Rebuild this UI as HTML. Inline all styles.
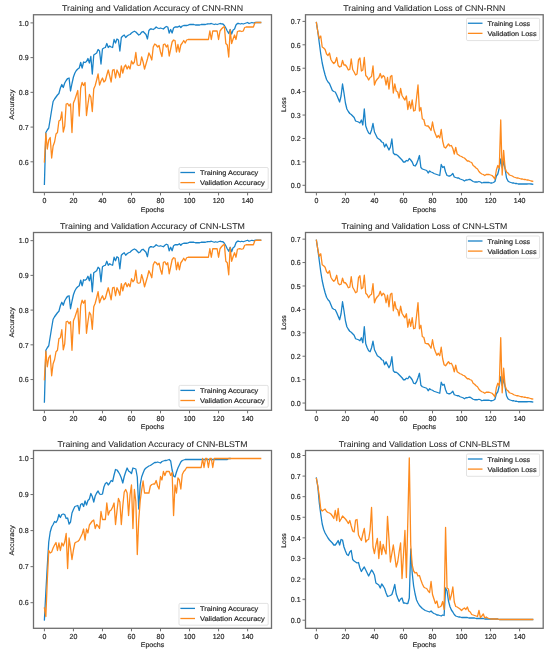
<!DOCTYPE html>
<html><head><meta charset="utf-8"><style>html,body{margin:0;padding:0;background:#fff;width:550px;height:653px;overflow:hidden}svg{display:block;will-change:transform}</style></head>
<body><svg width="550" height="653" viewBox="0 0 550 653" font-family='"Liberation Sans", sans-serif' text-rendering="geometricPrecision"><rect width="550" height="653" fill="#fff"/><g><clipPath id="c00"><rect x="33.5" y="14.75" width="238.0" height="177.65"/></clipPath><g clip-path="url(#c00)" fill="none" stroke-width="1.3" stroke-linejoin="round" stroke-linecap="square"><polyline points="44.40,184.40 45.85,132.50 47.30,130.00 48.75,128.00 50.21,119.00 51.66,110.00 53.11,101.50 54.56,99.00 56.01,97.00 57.46,95.00 58.91,93.50 60.37,88.00 61.82,84.50 63.27,87.50 64.72,83.00 66.17,80.50 67.62,78.50 69.07,78.00 70.53,91.00 71.98,83.50 73.43,77.00 74.88,73.00 76.33,70.50 77.78,69.00 79.23,68.00 80.69,62.50 82.14,68.00 83.59,62.00 85.04,62.50 86.49,61.50 87.94,58.50 89.39,63.00 90.84,56.50 92.30,74.00 93.75,55.00 95.20,54.00 96.65,53.00 98.10,49.50 99.55,51.00 101.00,64.00 102.46,49.00 103.91,48.00 105.36,47.50 106.81,43.50 108.26,47.50 109.71,46.00 111.16,47.00 112.62,47.50 114.07,39.50 115.52,43.00 116.97,39.00 118.42,40.00 119.87,51.00 121.32,37.50 122.78,36.00 124.23,35.00 125.68,37.50 127.13,36.00 128.58,35.00 130.03,34.50 131.48,33.00 132.94,32.00 134.39,31.20 135.84,32.00 137.29,33.50 138.74,35.00 140.19,34.20 141.64,32.20 143.10,31.50 144.55,33.00 146.00,34.50 147.45,39.00 148.90,30.50 150.35,29.00 151.80,29.00 153.25,29.50 154.71,28.50 156.16,27.00 157.61,28.00 159.06,28.50 160.51,28.00 161.96,28.50 163.41,29.00 164.87,27.50 166.32,26.50 167.77,27.00 169.22,33.00 170.67,29.50 172.12,33.00 173.57,28.00 175.03,27.00 176.48,27.00 177.93,27.00 179.38,26.00 180.83,27.50 182.28,26.00 183.73,25.50 185.19,25.50 186.64,25.50 188.09,25.20 189.54,24.50 190.99,24.50 192.44,24.50 193.89,24.50 195.35,25.00 196.80,25.00 198.25,25.00 199.70,25.00 201.15,24.50 202.60,24.50 204.05,24.50 205.51,24.50 206.96,24.00 208.41,23.80 209.86,23.80 211.31,23.50 212.76,24.00 214.21,24.50 215.67,24.00 217.12,24.50 218.57,24.00 220.02,23.50 221.47,23.80 222.92,24.00 224.37,25.50 225.83,28.00 227.28,31.00 228.73,33.50 230.18,29.50 231.63,34.00 233.08,30.00 234.53,29.00 235.98,25.00 237.44,23.50 238.89,23.50 240.34,24.00 241.79,23.50 243.24,24.00 244.69,23.50 246.14,23.00 247.60,22.50 249.05,23.50 250.50,23.00 251.95,22.50 253.40,23.00 254.85,22.50 256.30,22.50 257.76,22.50 259.21,22.50 260.66,22.50" stroke="#1a83c8"/><polyline points="44.40,162.00 45.85,133.50 47.30,149.00 48.75,140.00 50.21,137.50 51.66,158.00 53.11,146.00 54.56,142.00 56.01,134.00 57.46,132.50 58.91,121.00 60.37,120.00 61.82,112.00 63.27,132.00 64.72,126.00 66.17,104.00 67.62,103.50 69.07,106.00 70.53,104.00 71.98,132.50 73.43,103.00 74.88,99.50 76.33,95.00 77.78,90.50 79.23,116.00 80.69,88.00 82.14,82.50 83.59,85.50 85.04,82.50 86.49,115.50 87.94,104.00 89.39,94.50 90.84,97.00 92.30,111.50 93.75,89.00 95.20,85.50 96.65,80.00 98.10,74.00 99.55,85.00 101.00,81.00 102.46,78.00 103.91,82.00 105.36,80.50 106.81,75.00 108.26,70.00 109.71,76.00 111.16,82.00 112.62,70.00 114.07,69.50 115.52,78.00 116.97,70.00 118.42,73.00 119.87,77.50 121.32,66.00 122.78,73.00 124.23,67.00 125.68,65.00 127.13,69.00 128.58,66.00 130.03,69.00 131.48,61.00 132.94,64.00 134.39,62.00 135.84,52.50 137.29,65.00 138.74,65.50 140.19,65.00 141.64,57.00 143.10,62.00 144.55,69.00 146.00,64.00 147.45,59.00 148.90,53.00 150.35,56.00 151.80,60.00 153.25,47.00 154.71,44.00 156.16,45.00 157.61,47.00 159.06,45.50 160.51,52.00 161.96,56.50 163.41,44.50 164.87,44.00 166.32,47.00 167.77,45.00 169.22,56.00 170.67,49.00 172.12,42.00 173.57,40.00 175.03,40.50 176.48,52.00 177.93,44.50 179.38,52.00 180.83,45.00 182.28,43.00 183.73,40.50 185.19,43.00 186.64,40.00 188.09,39.50 189.54,39.50 190.99,39.50 192.44,39.50 193.89,39.50 195.35,39.50 196.80,39.50 198.25,39.50 199.70,39.50 201.15,39.50 202.60,39.50 204.05,39.50 205.51,39.50 206.96,39.50 208.41,39.50 209.86,31.00 211.31,39.50 212.76,31.00 214.21,31.00 215.67,31.00 217.12,31.00 218.57,39.50 220.02,31.00 221.47,29.00 222.92,27.50 224.37,26.50 225.83,43.50 227.28,45.00 228.73,57.00 230.18,30.00 231.63,43.50 233.08,39.00 234.53,35.00 235.98,39.50 237.44,31.50 238.89,31.00 240.34,31.00 241.79,31.50 243.24,31.00 244.69,27.50 246.14,27.00 247.60,27.00 249.05,27.00 250.50,27.00 251.95,27.00 253.40,27.00 254.85,23.00 256.30,22.50 257.76,22.50 259.21,22.50 260.66,22.50" stroke="#fd8a1e"/></g><g stroke="#6e6e6e" stroke-width="1.3" fill="none"><rect x="33.5" y="14.75" width="238.0" height="177.65"/><line x1="44.40" y1="192.4" x2="44.40" y2="195.4" stroke-width="1.0"/><line x1="73.43" y1="192.4" x2="73.43" y2="195.4" stroke-width="1.0"/><line x1="102.46" y1="192.4" x2="102.46" y2="195.4" stroke-width="1.0"/><line x1="131.48" y1="192.4" x2="131.48" y2="195.4" stroke-width="1.0"/><line x1="160.51" y1="192.4" x2="160.51" y2="195.4" stroke-width="1.0"/><line x1="189.54" y1="192.4" x2="189.54" y2="195.4" stroke-width="1.0"/><line x1="218.57" y1="192.4" x2="218.57" y2="195.4" stroke-width="1.0"/><line x1="247.60" y1="192.4" x2="247.60" y2="195.4" stroke-width="1.0"/><line x1="30.5" y1="161.80" x2="33.5" y2="161.80" stroke-width="1.0"/><line x1="30.5" y1="127.08" x2="33.5" y2="127.08" stroke-width="1.0"/><line x1="30.5" y1="92.35" x2="33.5" y2="92.35" stroke-width="1.0"/><line x1="30.5" y1="57.62" x2="33.5" y2="57.62" stroke-width="1.0"/><line x1="30.5" y1="22.90" x2="33.5" y2="22.90" stroke-width="1.0"/></g><g fill="#262626" stroke="#262626" stroke-width="0.16"><text x="44.40" y="202.70" text-anchor="middle" font-size="7.26" textLength="3.90" lengthAdjust="spacingAndGlyphs">0</text><text x="73.43" y="202.70" text-anchor="middle" font-size="7.26" textLength="7.81" lengthAdjust="spacingAndGlyphs">20</text><text x="102.46" y="202.70" text-anchor="middle" font-size="7.26" textLength="7.81" lengthAdjust="spacingAndGlyphs">40</text><text x="131.48" y="202.70" text-anchor="middle" font-size="7.26" textLength="7.81" lengthAdjust="spacingAndGlyphs">60</text><text x="160.51" y="202.70" text-anchor="middle" font-size="7.26" textLength="7.81" lengthAdjust="spacingAndGlyphs">80</text><text x="189.54" y="202.70" text-anchor="middle" font-size="7.26" textLength="11.71" lengthAdjust="spacingAndGlyphs">100</text><text x="218.57" y="202.70" text-anchor="middle" font-size="7.26" textLength="11.71" lengthAdjust="spacingAndGlyphs">120</text><text x="247.60" y="202.70" text-anchor="middle" font-size="7.26" textLength="11.71" lengthAdjust="spacingAndGlyphs">140</text><text x="28.60" y="164.55" text-anchor="end" font-size="7.26" textLength="9.76" lengthAdjust="spacingAndGlyphs">0.6</text><text x="28.60" y="129.83" text-anchor="end" font-size="7.26" textLength="9.76" lengthAdjust="spacingAndGlyphs">0.7</text><text x="28.60" y="95.10" text-anchor="end" font-size="7.26" textLength="9.76" lengthAdjust="spacingAndGlyphs">0.8</text><text x="28.60" y="60.37" text-anchor="end" font-size="7.26" textLength="9.76" lengthAdjust="spacingAndGlyphs">0.9</text><text x="28.60" y="25.65" text-anchor="end" font-size="7.26" textLength="9.76" lengthAdjust="spacingAndGlyphs">1.0</text><g stroke-width="0.06"><text x="152.50" y="11.25" text-anchor="middle" font-size="8.40" textLength="181.12" lengthAdjust="spacingAndGlyphs">Training and Validation Accuracy of CNN-RNN</text></g><text x="152.50" y="211.50" text-anchor="middle" font-size="6.73" textLength="23.65" lengthAdjust="spacingAndGlyphs">Epochs</text><text transform="translate(14.00,104.67) rotate(-90)" x="0" y="0" text-anchor="middle" font-size="6.73" textLength="30.15" lengthAdjust="spacingAndGlyphs">Accuracy</text></g><rect x="179" y="167.5" width="89.19999999999999" height="21.80000000000001" rx="1.3" fill="#fff" fill-opacity="0.8" stroke="#d6d6d6" stroke-width="0.7"/><line x1="180.4" y1="172.50" x2="195" y2="172.50" stroke="#1a83c8" stroke-width="1.3"/><g fill="#262626" stroke="#262626" stroke-width="0.16"><text x="200.00" y="175.00" text-anchor="start" font-size="6.73" textLength="58.29" lengthAdjust="spacingAndGlyphs">Training Accuracy</text></g><line x1="180.4" y1="182.60" x2="195" y2="182.60" stroke="#fd8a1e" stroke-width="1.3"/><g fill="#262626" stroke="#262626" stroke-width="0.16"><text x="200.00" y="185.10" text-anchor="start" font-size="6.73" textLength="64.83" lengthAdjust="spacingAndGlyphs">Validation Accuracy</text></g><clipPath id="c10"><rect x="305.5" y="14.75" width="237.70000000000005" height="177.65"/></clipPath><g clip-path="url(#c10)" fill="none" stroke-width="1.3" stroke-linejoin="round" stroke-linecap="square"><polyline points="316.40,22.50 317.85,32.00 319.30,43.00 320.75,54.00 322.21,63.00 323.66,69.50 325.11,75.00 326.56,79.50 328.01,82.00 329.46,83.50 330.91,87.00 332.37,90.50 333.82,91.50 335.27,92.00 336.72,95.00 338.17,98.50 339.62,102.00 341.07,96.00 342.53,84.00 343.98,93.00 345.43,103.00 346.88,109.00 348.33,111.50 349.78,113.50 351.23,114.50 352.69,116.00 354.14,117.50 355.59,121.00 357.04,121.50 358.49,122.00 359.94,123.00 361.39,120.00 362.84,125.00 364.30,109.00 365.75,126.00 367.20,130.00 368.65,133.00 370.10,134.00 371.55,130.00 373.00,123.50 374.46,132.00 375.91,135.00 377.36,138.00 378.81,139.00 380.26,140.00 381.71,142.00 383.16,142.50 384.62,147.00 386.07,144.00 387.52,147.00 388.97,150.00 390.42,147.00 391.87,139.00 393.32,153.00 394.78,154.50 396.23,154.50 397.68,155.50 399.13,157.00 400.58,158.50 402.03,160.00 403.48,162.00 404.94,162.00 406.39,160.50 407.84,161.00 409.29,158.50 410.74,160.00 412.19,162.00 413.64,165.50 415.10,166.00 416.55,164.00 418.00,160.00 419.45,155.50 420.90,167.50 422.35,169.00 423.80,169.50 425.25,170.00 426.71,170.50 428.16,173.00 429.61,171.00 431.06,172.00 432.51,172.50 433.96,173.50 435.41,174.00 436.87,174.50 438.32,175.00 439.77,175.50 441.22,164.50 442.67,167.50 444.12,166.50 445.57,172.00 447.03,175.50 448.48,176.00 449.93,176.00 451.38,175.00 452.83,173.50 454.28,177.00 455.73,177.50 457.19,178.00 458.64,178.00 460.09,179.00 461.54,179.50 462.99,180.00 464.44,181.00 465.89,180.00 467.35,180.00 468.80,179.50 470.25,179.50 471.70,180.50 473.15,181.50 474.60,182.00 476.05,182.00 477.51,182.00 478.96,181.50 480.41,182.00 481.86,183.00 483.31,182.50 484.76,182.50 486.21,182.50 487.67,182.50 489.12,182.50 490.57,183.00 492.02,183.00 493.47,182.50 494.92,181.50 496.37,176.00 497.82,174.00 499.28,168.00 500.73,159.00 502.18,168.00 503.63,161.00 505.08,169.00 506.53,178.00 507.98,181.00 509.44,182.00 510.89,182.50 512.34,183.00 513.79,183.00 515.24,183.50 516.69,183.50 518.14,184.00 519.60,184.00 521.05,184.00 522.50,184.00 523.95,184.00 525.40,184.00 526.85,184.00 528.30,183.80 529.76,183.80 531.21,184.00 532.66,184.30" stroke="#1a83c8"/><polyline points="316.40,22.50 317.85,32.00 319.30,38.50 320.75,36.00 322.21,47.00 323.66,48.00 325.11,49.50 326.56,54.00 328.01,55.50 329.46,53.00 330.91,59.50 332.37,62.00 333.82,63.50 335.27,62.00 336.72,57.50 338.17,65.50 339.62,67.00 341.07,66.50 342.53,60.50 343.98,65.00 345.43,65.00 346.88,67.00 348.33,70.00 349.78,69.50 351.23,59.00 352.69,69.50 354.14,72.00 355.59,75.00 357.04,74.00 358.49,60.00 359.94,58.00 361.39,71.00 362.84,70.00 364.30,57.50 365.75,75.50 367.20,77.00 368.65,80.00 370.10,77.50 371.55,76.50 373.00,66.00 374.46,85.00 375.91,81.00 377.36,79.00 378.81,77.50 380.26,73.50 381.71,78.00 383.16,75.50 384.62,77.00 386.07,85.00 387.52,77.50 388.97,89.00 390.42,76.50 391.87,75.50 393.32,93.00 394.78,84.00 396.23,91.00 397.68,92.00 399.13,98.00 400.58,88.50 402.03,95.50 403.48,98.00 404.94,100.00 406.39,96.00 407.84,109.50 409.29,101.50 410.74,108.50 412.19,100.00 413.64,111.00 415.10,110.50 416.55,98.00 418.00,85.00 419.45,111.00 420.90,107.50 422.35,119.00 423.80,119.50 425.25,125.50 426.71,126.00 428.16,126.00 429.61,128.00 431.06,130.50 432.51,122.00 433.96,130.00 435.41,134.00 436.87,137.50 438.32,135.50 439.77,138.00 441.22,129.50 442.67,141.00 444.12,147.00 445.57,148.00 447.03,146.00 448.48,144.00 449.93,146.00 451.38,145.50 452.83,148.50 454.28,154.00 455.73,147.50 457.19,154.00 458.64,155.00 460.09,156.00 461.54,156.50 462.99,157.50 464.44,158.00 465.89,159.50 467.35,161.00 468.80,161.00 470.25,162.00 471.70,162.50 473.15,165.50 474.60,166.50 476.05,168.00 477.51,169.00 478.96,171.50 480.41,173.00 481.86,174.00 483.31,174.50 484.76,175.50 486.21,174.50 487.67,174.50 489.12,174.50 490.57,175.00 492.02,175.50 493.47,177.00 494.92,179.00 496.37,170.00 497.82,165.50 499.28,168.00 500.73,120.00 502.18,175.00 503.63,150.50 505.08,168.00 506.53,172.00 507.98,173.00 509.44,175.00 510.89,175.50 512.34,176.00 513.79,177.00 515.24,177.50 516.69,178.00 518.14,178.00 519.60,178.50 521.05,179.00 522.50,179.00 523.95,179.50 525.40,179.50 526.85,180.00 528.30,180.00 529.76,180.50 531.21,181.00 532.66,181.20" stroke="#fd8a1e"/></g><g stroke="#6e6e6e" stroke-width="1.3" fill="none"><rect x="305.5" y="14.75" width="237.70000000000005" height="177.65"/><line x1="316.40" y1="192.4" x2="316.40" y2="195.4" stroke-width="1.0"/><line x1="345.43" y1="192.4" x2="345.43" y2="195.4" stroke-width="1.0"/><line x1="374.46" y1="192.4" x2="374.46" y2="195.4" stroke-width="1.0"/><line x1="403.48" y1="192.4" x2="403.48" y2="195.4" stroke-width="1.0"/><line x1="432.51" y1="192.4" x2="432.51" y2="195.4" stroke-width="1.0"/><line x1="461.54" y1="192.4" x2="461.54" y2="195.4" stroke-width="1.0"/><line x1="490.57" y1="192.4" x2="490.57" y2="195.4" stroke-width="1.0"/><line x1="519.60" y1="192.4" x2="519.60" y2="195.4" stroke-width="1.0"/><line x1="302.5" y1="185.30" x2="305.5" y2="185.30" stroke-width="1.0"/><line x1="302.5" y1="161.89" x2="305.5" y2="161.89" stroke-width="1.0"/><line x1="302.5" y1="138.47" x2="305.5" y2="138.47" stroke-width="1.0"/><line x1="302.5" y1="115.06" x2="305.5" y2="115.06" stroke-width="1.0"/><line x1="302.5" y1="91.64" x2="305.5" y2="91.64" stroke-width="1.0"/><line x1="302.5" y1="68.23" x2="305.5" y2="68.23" stroke-width="1.0"/><line x1="302.5" y1="44.81" x2="305.5" y2="44.81" stroke-width="1.0"/><line x1="302.5" y1="21.40" x2="305.5" y2="21.40" stroke-width="1.0"/></g><g fill="#262626" stroke="#262626" stroke-width="0.16"><text x="316.40" y="202.70" text-anchor="middle" font-size="7.26" textLength="3.90" lengthAdjust="spacingAndGlyphs">0</text><text x="345.43" y="202.70" text-anchor="middle" font-size="7.26" textLength="7.81" lengthAdjust="spacingAndGlyphs">20</text><text x="374.46" y="202.70" text-anchor="middle" font-size="7.26" textLength="7.81" lengthAdjust="spacingAndGlyphs">40</text><text x="403.48" y="202.70" text-anchor="middle" font-size="7.26" textLength="7.81" lengthAdjust="spacingAndGlyphs">60</text><text x="432.51" y="202.70" text-anchor="middle" font-size="7.26" textLength="7.81" lengthAdjust="spacingAndGlyphs">80</text><text x="461.54" y="202.70" text-anchor="middle" font-size="7.26" textLength="11.71" lengthAdjust="spacingAndGlyphs">100</text><text x="490.57" y="202.70" text-anchor="middle" font-size="7.26" textLength="11.71" lengthAdjust="spacingAndGlyphs">120</text><text x="519.60" y="202.70" text-anchor="middle" font-size="7.26" textLength="11.71" lengthAdjust="spacingAndGlyphs">140</text><text x="300.60" y="188.05" text-anchor="end" font-size="7.26" textLength="9.76" lengthAdjust="spacingAndGlyphs">0.0</text><text x="300.60" y="164.64" text-anchor="end" font-size="7.26" textLength="9.76" lengthAdjust="spacingAndGlyphs">0.1</text><text x="300.60" y="141.22" text-anchor="end" font-size="7.26" textLength="9.76" lengthAdjust="spacingAndGlyphs">0.2</text><text x="300.60" y="117.81" text-anchor="end" font-size="7.26" textLength="9.76" lengthAdjust="spacingAndGlyphs">0.3</text><text x="300.60" y="94.39" text-anchor="end" font-size="7.26" textLength="9.76" lengthAdjust="spacingAndGlyphs">0.4</text><text x="300.60" y="70.98" text-anchor="end" font-size="7.26" textLength="9.76" lengthAdjust="spacingAndGlyphs">0.5</text><text x="300.60" y="47.56" text-anchor="end" font-size="7.26" textLength="9.76" lengthAdjust="spacingAndGlyphs">0.6</text><text x="300.60" y="24.15" text-anchor="end" font-size="7.26" textLength="9.76" lengthAdjust="spacingAndGlyphs">0.7</text><g stroke-width="0.06"><text x="424.35" y="11.25" text-anchor="middle" font-size="8.40" textLength="162.11" lengthAdjust="spacingAndGlyphs">Training and Validation Loss of CNN-RNN</text></g><text x="424.35" y="211.50" text-anchor="middle" font-size="6.73" textLength="23.65" lengthAdjust="spacingAndGlyphs">Epochs</text><text transform="translate(286.00,104.67) rotate(-90)" x="0" y="0" text-anchor="middle" font-size="6.73" textLength="14.46" lengthAdjust="spacingAndGlyphs">Loss</text></g><rect x="466.5" y="18.25" width="73.10000000000002" height="22.299999999999997" rx="1.3" fill="#fff" fill-opacity="0.8" stroke="#d6d6d6" stroke-width="0.7"/><line x1="467.9" y1="23.25" x2="482.5" y2="23.25" stroke="#1a83c8" stroke-width="1.3"/><g fill="#262626" stroke="#262626" stroke-width="0.16"><text x="487.50" y="25.75" text-anchor="start" font-size="6.73" textLength="42.61" lengthAdjust="spacingAndGlyphs">Training Loss</text></g><line x1="467.9" y1="33.35" x2="482.5" y2="33.35" stroke="#fd8a1e" stroke-width="1.3"/><g fill="#262626" stroke="#262626" stroke-width="0.16"><text x="487.50" y="35.85" text-anchor="start" font-size="6.73" textLength="49.15" lengthAdjust="spacingAndGlyphs">Validation Loss</text></g><clipPath id="c01"><rect x="33.5" y="232.5" width="238.0" height="177.8"/></clipPath><g clip-path="url(#c01)" fill="none" stroke-width="1.3" stroke-linejoin="round" stroke-linecap="square"><polyline points="44.40,402.15 45.85,350.25 47.30,347.75 48.75,345.75 50.21,336.75 51.66,327.75 53.11,319.25 54.56,316.75 56.01,314.75 57.46,312.75 58.91,311.25 60.37,305.75 61.82,302.25 63.27,305.25 64.72,300.75 66.17,298.25 67.62,296.25 69.07,295.75 70.53,308.75 71.98,301.25 73.43,294.75 74.88,290.75 76.33,288.25 77.78,286.75 79.23,285.75 80.69,280.25 82.14,285.75 83.59,279.75 85.04,280.25 86.49,279.25 87.94,276.25 89.39,280.75 90.84,274.25 92.30,291.75 93.75,272.75 95.20,271.75 96.65,270.75 98.10,267.25 99.55,268.75 101.00,281.75 102.46,266.75 103.91,265.75 105.36,265.25 106.81,261.25 108.26,265.25 109.71,263.75 111.16,264.75 112.62,265.25 114.07,257.25 115.52,260.75 116.97,256.75 118.42,257.75 119.87,268.75 121.32,255.25 122.78,253.75 124.23,252.75 125.68,255.25 127.13,253.75 128.58,252.75 130.03,252.25 131.48,250.75 132.94,249.75 134.39,248.95 135.84,249.75 137.29,251.25 138.74,252.75 140.19,251.95 141.64,249.95 143.10,249.25 144.55,250.75 146.00,252.25 147.45,256.75 148.90,248.25 150.35,246.75 151.80,246.75 153.25,247.25 154.71,246.25 156.16,244.75 157.61,245.75 159.06,246.25 160.51,245.75 161.96,246.25 163.41,246.75 164.87,245.25 166.32,244.25 167.77,244.75 169.22,250.75 170.67,247.25 172.12,250.75 173.57,245.75 175.03,244.75 176.48,244.75 177.93,244.75 179.38,243.75 180.83,245.25 182.28,243.75 183.73,243.25 185.19,243.25 186.64,243.25 188.09,242.95 189.54,242.25 190.99,242.25 192.44,242.25 193.89,242.25 195.35,242.75 196.80,242.75 198.25,242.75 199.70,242.75 201.15,242.25 202.60,242.25 204.05,242.25 205.51,242.25 206.96,241.75 208.41,241.55 209.86,241.55 211.31,241.25 212.76,241.75 214.21,242.25 215.67,241.75 217.12,242.25 218.57,241.75 220.02,241.25 221.47,241.55 222.92,241.75 224.37,243.25 225.83,245.75 227.28,248.75 228.73,251.25 230.18,247.25 231.63,251.75 233.08,247.75 234.53,246.75 235.98,242.75 237.44,241.25 238.89,241.25 240.34,241.75 241.79,241.25 243.24,241.75 244.69,241.25 246.14,240.75 247.60,240.25 249.05,241.25 250.50,240.75 251.95,240.25 253.40,240.75 254.85,240.25 256.30,240.25 257.76,240.25 259.21,240.25 260.66,240.25" stroke="#1a83c8"/><polyline points="44.40,379.75 45.85,351.25 47.30,366.75 48.75,357.75 50.21,355.25 51.66,375.75 53.11,363.75 54.56,359.75 56.01,351.75 57.46,350.25 58.91,338.75 60.37,337.75 61.82,329.75 63.27,349.75 64.72,343.75 66.17,321.75 67.62,321.25 69.07,323.75 70.53,321.75 71.98,350.25 73.43,320.75 74.88,317.25 76.33,312.75 77.78,308.25 79.23,333.75 80.69,305.75 82.14,300.25 83.59,303.25 85.04,300.25 86.49,333.25 87.94,321.75 89.39,312.25 90.84,314.75 92.30,329.25 93.75,306.75 95.20,303.25 96.65,297.75 98.10,291.75 99.55,302.75 101.00,298.75 102.46,295.75 103.91,299.75 105.36,298.25 106.81,292.75 108.26,287.75 109.71,293.75 111.16,299.75 112.62,287.75 114.07,287.25 115.52,295.75 116.97,287.75 118.42,290.75 119.87,295.25 121.32,283.75 122.78,290.75 124.23,284.75 125.68,282.75 127.13,286.75 128.58,283.75 130.03,286.75 131.48,278.75 132.94,281.75 134.39,279.75 135.84,270.25 137.29,282.75 138.74,283.25 140.19,282.75 141.64,274.75 143.10,279.75 144.55,286.75 146.00,281.75 147.45,276.75 148.90,270.75 150.35,273.75 151.80,277.75 153.25,264.75 154.71,261.75 156.16,262.75 157.61,264.75 159.06,263.25 160.51,269.75 161.96,274.25 163.41,262.25 164.87,261.75 166.32,264.75 167.77,262.75 169.22,273.75 170.67,266.75 172.12,259.75 173.57,257.75 175.03,258.25 176.48,269.75 177.93,262.25 179.38,269.75 180.83,262.75 182.28,260.75 183.73,258.25 185.19,260.75 186.64,257.75 188.09,257.25 189.54,257.25 190.99,257.25 192.44,257.25 193.89,257.25 195.35,257.25 196.80,257.25 198.25,257.25 199.70,257.25 201.15,257.25 202.60,257.25 204.05,257.25 205.51,257.25 206.96,257.25 208.41,257.25 209.86,248.75 211.31,257.25 212.76,248.75 214.21,248.75 215.67,248.75 217.12,248.75 218.57,257.25 220.02,248.75 221.47,246.75 222.92,245.25 224.37,244.25 225.83,261.25 227.28,262.75 228.73,274.75 230.18,247.75 231.63,261.25 233.08,256.75 234.53,252.75 235.98,257.25 237.44,249.25 238.89,248.75 240.34,248.75 241.79,249.25 243.24,248.75 244.69,245.25 246.14,244.75 247.60,244.75 249.05,244.75 250.50,244.75 251.95,244.75 253.40,244.75 254.85,240.75 256.30,240.25 257.76,240.25 259.21,240.25 260.66,240.25" stroke="#fd8a1e"/></g><g stroke="#6e6e6e" stroke-width="1.3" fill="none"><rect x="33.5" y="232.5" width="238.0" height="177.8"/><line x1="44.40" y1="410.3" x2="44.40" y2="413.3" stroke-width="1.0"/><line x1="73.43" y1="410.3" x2="73.43" y2="413.3" stroke-width="1.0"/><line x1="102.46" y1="410.3" x2="102.46" y2="413.3" stroke-width="1.0"/><line x1="131.48" y1="410.3" x2="131.48" y2="413.3" stroke-width="1.0"/><line x1="160.51" y1="410.3" x2="160.51" y2="413.3" stroke-width="1.0"/><line x1="189.54" y1="410.3" x2="189.54" y2="413.3" stroke-width="1.0"/><line x1="218.57" y1="410.3" x2="218.57" y2="413.3" stroke-width="1.0"/><line x1="247.60" y1="410.3" x2="247.60" y2="413.3" stroke-width="1.0"/><line x1="30.5" y1="379.55" x2="33.5" y2="379.55" stroke-width="1.0"/><line x1="30.5" y1="344.83" x2="33.5" y2="344.83" stroke-width="1.0"/><line x1="30.5" y1="310.10" x2="33.5" y2="310.10" stroke-width="1.0"/><line x1="30.5" y1="275.38" x2="33.5" y2="275.38" stroke-width="1.0"/><line x1="30.5" y1="240.65" x2="33.5" y2="240.65" stroke-width="1.0"/></g><g fill="#262626" stroke="#262626" stroke-width="0.16"><text x="44.40" y="420.60" text-anchor="middle" font-size="7.26" textLength="3.90" lengthAdjust="spacingAndGlyphs">0</text><text x="73.43" y="420.60" text-anchor="middle" font-size="7.26" textLength="7.81" lengthAdjust="spacingAndGlyphs">20</text><text x="102.46" y="420.60" text-anchor="middle" font-size="7.26" textLength="7.81" lengthAdjust="spacingAndGlyphs">40</text><text x="131.48" y="420.60" text-anchor="middle" font-size="7.26" textLength="7.81" lengthAdjust="spacingAndGlyphs">60</text><text x="160.51" y="420.60" text-anchor="middle" font-size="7.26" textLength="7.81" lengthAdjust="spacingAndGlyphs">80</text><text x="189.54" y="420.60" text-anchor="middle" font-size="7.26" textLength="11.71" lengthAdjust="spacingAndGlyphs">100</text><text x="218.57" y="420.60" text-anchor="middle" font-size="7.26" textLength="11.71" lengthAdjust="spacingAndGlyphs">120</text><text x="247.60" y="420.60" text-anchor="middle" font-size="7.26" textLength="11.71" lengthAdjust="spacingAndGlyphs">140</text><text x="28.60" y="382.30" text-anchor="end" font-size="7.26" textLength="9.76" lengthAdjust="spacingAndGlyphs">0.6</text><text x="28.60" y="347.58" text-anchor="end" font-size="7.26" textLength="9.76" lengthAdjust="spacingAndGlyphs">0.7</text><text x="28.60" y="312.85" text-anchor="end" font-size="7.26" textLength="9.76" lengthAdjust="spacingAndGlyphs">0.8</text><text x="28.60" y="278.12" text-anchor="end" font-size="7.26" textLength="9.76" lengthAdjust="spacingAndGlyphs">0.9</text><text x="28.60" y="243.40" text-anchor="end" font-size="7.26" textLength="9.76" lengthAdjust="spacingAndGlyphs">1.0</text><g stroke-width="0.06"><text x="152.50" y="229.00" text-anchor="middle" font-size="8.40" textLength="184.90" lengthAdjust="spacingAndGlyphs">Training and Validation Accuracy of CNN-LSTM</text></g><text x="152.50" y="429.40" text-anchor="middle" font-size="6.73" textLength="23.65" lengthAdjust="spacingAndGlyphs">Epochs</text><text transform="translate(14.00,322.50) rotate(-90)" x="0" y="0" text-anchor="middle" font-size="6.73" textLength="30.15" lengthAdjust="spacingAndGlyphs">Accuracy</text></g><rect x="179" y="385.40000000000003" width="89.19999999999999" height="21.799999999999955" rx="1.3" fill="#fff" fill-opacity="0.8" stroke="#d6d6d6" stroke-width="0.7"/><line x1="180.4" y1="390.40" x2="195" y2="390.40" stroke="#1a83c8" stroke-width="1.3"/><g fill="#262626" stroke="#262626" stroke-width="0.16"><text x="200.00" y="392.90" text-anchor="start" font-size="6.73" textLength="58.29" lengthAdjust="spacingAndGlyphs">Training Accuracy</text></g><line x1="180.4" y1="400.50" x2="195" y2="400.50" stroke="#fd8a1e" stroke-width="1.3"/><g fill="#262626" stroke="#262626" stroke-width="0.16"><text x="200.00" y="403.00" text-anchor="start" font-size="6.73" textLength="64.83" lengthAdjust="spacingAndGlyphs">Validation Accuracy</text></g><clipPath id="c11"><rect x="305.5" y="232.5" width="237.70000000000005" height="177.8"/></clipPath><g clip-path="url(#c11)" fill="none" stroke-width="1.3" stroke-linejoin="round" stroke-linecap="square"><polyline points="316.40,240.25 317.85,249.75 319.30,260.75 320.75,271.75 322.21,280.75 323.66,287.25 325.11,292.75 326.56,297.25 328.01,299.75 329.46,301.25 330.91,304.75 332.37,308.25 333.82,309.25 335.27,309.75 336.72,312.75 338.17,316.25 339.62,319.75 341.07,313.75 342.53,301.75 343.98,310.75 345.43,320.75 346.88,326.75 348.33,329.25 349.78,331.25 351.23,332.25 352.69,333.75 354.14,335.25 355.59,338.75 357.04,339.25 358.49,339.75 359.94,340.75 361.39,337.75 362.84,342.75 364.30,326.75 365.75,343.75 367.20,347.75 368.65,350.75 370.10,351.75 371.55,347.75 373.00,341.25 374.46,349.75 375.91,352.75 377.36,355.75 378.81,356.75 380.26,357.75 381.71,359.75 383.16,360.25 384.62,364.75 386.07,361.75 387.52,364.75 388.97,367.75 390.42,364.75 391.87,356.75 393.32,370.75 394.78,372.25 396.23,372.25 397.68,373.25 399.13,374.75 400.58,376.25 402.03,377.75 403.48,379.75 404.94,379.75 406.39,378.25 407.84,378.75 409.29,376.25 410.74,377.75 412.19,379.75 413.64,383.25 415.10,383.75 416.55,381.75 418.00,377.75 419.45,373.25 420.90,385.25 422.35,386.75 423.80,387.25 425.25,387.75 426.71,388.25 428.16,390.75 429.61,388.75 431.06,389.75 432.51,390.25 433.96,391.25 435.41,391.75 436.87,392.25 438.32,392.75 439.77,393.25 441.22,382.25 442.67,385.25 444.12,384.25 445.57,389.75 447.03,393.25 448.48,393.75 449.93,393.75 451.38,392.75 452.83,391.25 454.28,394.75 455.73,395.25 457.19,395.75 458.64,395.75 460.09,396.75 461.54,397.25 462.99,397.75 464.44,398.75 465.89,397.75 467.35,397.75 468.80,397.25 470.25,397.25 471.70,398.25 473.15,399.25 474.60,399.75 476.05,399.75 477.51,399.75 478.96,399.25 480.41,399.75 481.86,400.75 483.31,400.25 484.76,400.25 486.21,400.25 487.67,400.25 489.12,400.25 490.57,400.75 492.02,400.75 493.47,400.25 494.92,399.25 496.37,393.75 497.82,391.75 499.28,385.75 500.73,376.75 502.18,385.75 503.63,378.75 505.08,386.75 506.53,395.75 507.98,398.75 509.44,399.75 510.89,400.25 512.34,400.75 513.79,400.75 515.24,401.25 516.69,401.25 518.14,401.75 519.60,401.75 521.05,401.75 522.50,401.75 523.95,401.75 525.40,401.75 526.85,401.75 528.30,401.55 529.76,401.55 531.21,401.75 532.66,402.05" stroke="#1a83c8"/><polyline points="316.40,240.25 317.85,249.75 319.30,256.25 320.75,253.75 322.21,264.75 323.66,265.75 325.11,267.25 326.56,271.75 328.01,273.25 329.46,270.75 330.91,277.25 332.37,279.75 333.82,281.25 335.27,279.75 336.72,275.25 338.17,283.25 339.62,284.75 341.07,284.25 342.53,278.25 343.98,282.75 345.43,282.75 346.88,284.75 348.33,287.75 349.78,287.25 351.23,276.75 352.69,287.25 354.14,289.75 355.59,292.75 357.04,291.75 358.49,277.75 359.94,275.75 361.39,288.75 362.84,287.75 364.30,275.25 365.75,293.25 367.20,294.75 368.65,297.75 370.10,295.25 371.55,294.25 373.00,283.75 374.46,302.75 375.91,298.75 377.36,296.75 378.81,295.25 380.26,291.25 381.71,295.75 383.16,293.25 384.62,294.75 386.07,302.75 387.52,295.25 388.97,306.75 390.42,294.25 391.87,293.25 393.32,310.75 394.78,301.75 396.23,308.75 397.68,309.75 399.13,315.75 400.58,306.25 402.03,313.25 403.48,315.75 404.94,317.75 406.39,313.75 407.84,327.25 409.29,319.25 410.74,326.25 412.19,317.75 413.64,328.75 415.10,328.25 416.55,315.75 418.00,302.75 419.45,328.75 420.90,325.25 422.35,336.75 423.80,337.25 425.25,343.25 426.71,343.75 428.16,343.75 429.61,345.75 431.06,348.25 432.51,339.75 433.96,347.75 435.41,351.75 436.87,355.25 438.32,353.25 439.77,355.75 441.22,347.25 442.67,358.75 444.12,364.75 445.57,365.75 447.03,363.75 448.48,361.75 449.93,363.75 451.38,363.25 452.83,366.25 454.28,371.75 455.73,365.25 457.19,371.75 458.64,372.75 460.09,373.75 461.54,374.25 462.99,375.25 464.44,375.75 465.89,377.25 467.35,378.75 468.80,378.75 470.25,379.75 471.70,380.25 473.15,383.25 474.60,384.25 476.05,385.75 477.51,386.75 478.96,389.25 480.41,390.75 481.86,391.75 483.31,392.25 484.76,393.25 486.21,392.25 487.67,392.25 489.12,392.25 490.57,392.75 492.02,393.25 493.47,394.75 494.92,396.75 496.37,387.75 497.82,383.25 499.28,385.75 500.73,337.75 502.18,392.75 503.63,368.25 505.08,385.75 506.53,389.75 507.98,390.75 509.44,392.75 510.89,393.25 512.34,393.75 513.79,394.75 515.24,395.25 516.69,395.75 518.14,395.75 519.60,396.25 521.05,396.75 522.50,396.75 523.95,397.25 525.40,397.25 526.85,397.75 528.30,397.75 529.76,398.25 531.21,398.75 532.66,398.95" stroke="#fd8a1e"/></g><g stroke="#6e6e6e" stroke-width="1.3" fill="none"><rect x="305.5" y="232.5" width="237.70000000000005" height="177.8"/><line x1="316.40" y1="410.3" x2="316.40" y2="413.3" stroke-width="1.0"/><line x1="345.43" y1="410.3" x2="345.43" y2="413.3" stroke-width="1.0"/><line x1="374.46" y1="410.3" x2="374.46" y2="413.3" stroke-width="1.0"/><line x1="403.48" y1="410.3" x2="403.48" y2="413.3" stroke-width="1.0"/><line x1="432.51" y1="410.3" x2="432.51" y2="413.3" stroke-width="1.0"/><line x1="461.54" y1="410.3" x2="461.54" y2="413.3" stroke-width="1.0"/><line x1="490.57" y1="410.3" x2="490.57" y2="413.3" stroke-width="1.0"/><line x1="519.60" y1="410.3" x2="519.60" y2="413.3" stroke-width="1.0"/><line x1="302.5" y1="403.05" x2="305.5" y2="403.05" stroke-width="1.0"/><line x1="302.5" y1="379.64" x2="305.5" y2="379.64" stroke-width="1.0"/><line x1="302.5" y1="356.22" x2="305.5" y2="356.22" stroke-width="1.0"/><line x1="302.5" y1="332.81" x2="305.5" y2="332.81" stroke-width="1.0"/><line x1="302.5" y1="309.39" x2="305.5" y2="309.39" stroke-width="1.0"/><line x1="302.5" y1="285.98" x2="305.5" y2="285.98" stroke-width="1.0"/><line x1="302.5" y1="262.56" x2="305.5" y2="262.56" stroke-width="1.0"/><line x1="302.5" y1="239.15" x2="305.5" y2="239.15" stroke-width="1.0"/></g><g fill="#262626" stroke="#262626" stroke-width="0.16"><text x="316.40" y="420.60" text-anchor="middle" font-size="7.26" textLength="3.90" lengthAdjust="spacingAndGlyphs">0</text><text x="345.43" y="420.60" text-anchor="middle" font-size="7.26" textLength="7.81" lengthAdjust="spacingAndGlyphs">20</text><text x="374.46" y="420.60" text-anchor="middle" font-size="7.26" textLength="7.81" lengthAdjust="spacingAndGlyphs">40</text><text x="403.48" y="420.60" text-anchor="middle" font-size="7.26" textLength="7.81" lengthAdjust="spacingAndGlyphs">60</text><text x="432.51" y="420.60" text-anchor="middle" font-size="7.26" textLength="7.81" lengthAdjust="spacingAndGlyphs">80</text><text x="461.54" y="420.60" text-anchor="middle" font-size="7.26" textLength="11.71" lengthAdjust="spacingAndGlyphs">100</text><text x="490.57" y="420.60" text-anchor="middle" font-size="7.26" textLength="11.71" lengthAdjust="spacingAndGlyphs">120</text><text x="519.60" y="420.60" text-anchor="middle" font-size="7.26" textLength="11.71" lengthAdjust="spacingAndGlyphs">140</text><text x="300.60" y="405.80" text-anchor="end" font-size="7.26" textLength="9.76" lengthAdjust="spacingAndGlyphs">0.0</text><text x="300.60" y="382.39" text-anchor="end" font-size="7.26" textLength="9.76" lengthAdjust="spacingAndGlyphs">0.1</text><text x="300.60" y="358.97" text-anchor="end" font-size="7.26" textLength="9.76" lengthAdjust="spacingAndGlyphs">0.2</text><text x="300.60" y="335.56" text-anchor="end" font-size="7.26" textLength="9.76" lengthAdjust="spacingAndGlyphs">0.3</text><text x="300.60" y="312.14" text-anchor="end" font-size="7.26" textLength="9.76" lengthAdjust="spacingAndGlyphs">0.4</text><text x="300.60" y="288.73" text-anchor="end" font-size="7.26" textLength="9.76" lengthAdjust="spacingAndGlyphs">0.5</text><text x="300.60" y="265.31" text-anchor="end" font-size="7.26" textLength="9.76" lengthAdjust="spacingAndGlyphs">0.6</text><text x="300.60" y="241.90" text-anchor="end" font-size="7.26" textLength="9.76" lengthAdjust="spacingAndGlyphs">0.7</text><g stroke-width="0.06"><text x="424.35" y="229.00" text-anchor="middle" font-size="8.40" textLength="165.89" lengthAdjust="spacingAndGlyphs">Training and Validation Loss of CNN-LSTM</text></g><text x="424.35" y="429.40" text-anchor="middle" font-size="6.73" textLength="23.65" lengthAdjust="spacingAndGlyphs">Epochs</text><text transform="translate(286.00,322.50) rotate(-90)" x="0" y="0" text-anchor="middle" font-size="6.73" textLength="14.46" lengthAdjust="spacingAndGlyphs">Loss</text></g><rect x="466.5" y="236.0" width="73.10000000000002" height="22.30000000000001" rx="1.3" fill="#fff" fill-opacity="0.8" stroke="#d6d6d6" stroke-width="0.7"/><line x1="467.9" y1="241.00" x2="482.5" y2="241.00" stroke="#1a83c8" stroke-width="1.3"/><g fill="#262626" stroke="#262626" stroke-width="0.16"><text x="487.50" y="243.50" text-anchor="start" font-size="6.73" textLength="42.61" lengthAdjust="spacingAndGlyphs">Training Loss</text></g><line x1="467.9" y1="251.10" x2="482.5" y2="251.10" stroke="#fd8a1e" stroke-width="1.3"/><g fill="#262626" stroke="#262626" stroke-width="0.16"><text x="487.50" y="253.60" text-anchor="start" font-size="6.73" textLength="49.15" lengthAdjust="spacingAndGlyphs">Validation Loss</text></g><clipPath id="c02"><rect x="33.5" y="450.5" width="238.0" height="177.79999999999995"/></clipPath><g clip-path="url(#c02)" fill="none" stroke-width="1.3" stroke-linejoin="round" stroke-linecap="square"><polyline points="44.40,620.00 45.85,592.00 47.30,566.00 48.75,542.00 50.21,532.00 51.66,527.00 53.11,524.50 54.56,521.50 56.01,522.50 57.46,520.00 58.91,514.50 60.37,517.50 61.82,514.50 63.27,514.00 64.72,514.50 66.17,518.50 67.62,518.00 69.07,524.00 70.53,522.00 71.98,513.00 73.43,509.50 74.88,506.50 76.33,506.00 77.78,505.50 79.23,510.50 80.69,504.50 82.14,503.50 83.59,506.50 85.04,501.00 86.49,505.00 87.94,500.50 89.39,499.00 90.84,493.50 92.30,496.50 93.75,502.00 95.20,496.00 96.65,493.00 98.10,491.00 99.55,494.00 101.00,494.50 102.46,494.00 103.91,487.00 105.36,483.50 106.81,482.50 108.26,485.00 109.71,483.00 111.16,480.50 112.62,481.50 114.07,475.00 115.52,469.50 116.97,470.00 118.42,472.00 119.87,474.50 121.32,478.00 122.78,483.00 124.23,476.50 125.68,472.00 127.13,468.00 128.58,471.00 130.03,472.00 131.48,473.50 132.94,468.00 134.39,468.50 135.84,469.00 137.29,477.00 138.74,509.00 140.19,485.00 141.64,477.00 143.10,473.00 144.55,469.50 146.00,468.00 147.45,467.00 148.90,466.00 150.35,465.50 151.80,464.50 153.25,463.50 154.71,462.50 156.16,462.50 157.61,462.00 159.06,462.50 160.51,463.00 161.96,461.50 163.41,461.00 164.87,460.50 166.32,460.50 167.77,460.00 169.22,459.50 170.67,461.00 172.12,470.00 173.57,476.00 175.03,477.00 176.48,472.00 177.93,468.00 179.38,465.00 180.83,462.00 182.28,460.50 183.73,460.00 185.19,459.50 186.64,459.50 188.09,459.50 189.54,459.50 190.99,459.50 192.44,459.50 193.89,459.50 195.35,459.50 196.80,459.50 198.25,459.50 199.70,459.50 201.15,459.50 202.60,459.50 204.05,459.50 205.51,459.50 206.96,459.50 208.41,459.50 209.86,459.50 211.31,459.50 212.76,459.50 214.21,459.50 215.67,459.50 217.12,459.50 218.57,459.50 220.02,459.50 221.47,459.50 222.92,459.50 224.37,459.50 225.83,459.50 227.28,459.50 228.73,458.50 230.18,458.50" stroke="#1a83c8"/><polyline points="44.40,608.00 45.85,616.50 47.30,580.00 48.75,550.50 50.21,553.00 51.66,552.00 53.11,548.00 54.56,545.00 56.01,542.50 57.46,550.50 58.91,543.00 60.37,550.50 61.82,543.00 63.27,546.00 64.72,542.00 66.17,533.50 67.62,568.50 69.07,538.00 70.53,548.00 71.98,559.50 73.43,550.00 74.88,543.00 76.33,542.00 77.78,541.50 79.23,540.00 80.69,537.00 82.14,534.00 83.59,529.00 85.04,540.00 86.49,529.00 87.94,533.00 89.39,525.00 90.84,523.00 92.30,521.00 93.75,520.00 95.20,528.50 96.65,524.50 98.10,526.00 99.55,528.50 101.00,511.50 102.46,519.50 103.91,519.50 105.36,519.50 106.81,503.00 108.26,515.00 109.71,511.00 111.16,510.00 112.62,507.00 114.07,503.00 115.52,524.50 116.97,511.00 118.42,498.50 119.87,502.00 121.32,524.50 122.78,506.00 124.23,492.00 125.68,489.50 127.13,493.00 128.58,515.50 130.03,495.00 131.48,485.00 132.94,528.50 134.39,489.50 135.84,501.50 137.29,554.50 138.74,520.00 140.19,501.00 141.64,490.00 143.10,481.00 144.55,493.00 146.00,493.00 147.45,493.00 148.90,493.00 150.35,486.00 151.80,484.50 153.25,484.00 154.71,484.00 156.16,480.50 157.61,486.00 159.06,489.00 160.51,476.50 161.96,480.00 163.41,471.50 164.87,475.50 166.32,471.50 167.77,471.50 169.22,471.50 170.67,475.50 172.12,472.50 173.57,515.50 175.03,485.00 176.48,493.00 177.93,478.00 179.38,480.00 180.83,489.00 182.28,474.50 183.73,471.50 185.19,470.00 186.64,467.50 188.09,467.50 189.54,467.50 190.99,467.50 192.44,467.50 193.89,467.50 195.35,467.50 196.80,467.50 198.25,467.50 199.70,467.50 201.15,467.50 202.60,458.50 204.05,467.50 205.51,458.50 206.96,458.50 208.41,467.50 209.86,458.50 211.31,458.50 212.76,467.50 214.21,458.50 215.67,458.50 217.12,458.50 218.57,458.50 220.02,458.50 221.47,458.50 222.92,458.50 224.37,458.50 225.83,458.50 227.28,458.50 228.73,458.50 230.18,458.50 231.63,458.50 233.08,458.50 234.53,458.50 235.98,458.50 237.44,458.50 238.89,458.50 240.34,458.50 241.79,458.50 243.24,458.50 244.69,458.50 246.14,458.50 247.60,458.50 249.05,458.50 250.50,458.50 251.95,458.50 253.40,458.50 254.85,458.50 256.30,458.50 257.76,458.50 259.21,458.50 260.66,458.50" stroke="#fd8a1e"/></g><g stroke="#6e6e6e" stroke-width="1.3" fill="none"><rect x="33.5" y="450.5" width="238.0" height="177.79999999999995"/><line x1="44.40" y1="628.3" x2="44.40" y2="631.3" stroke-width="1.0"/><line x1="73.43" y1="628.3" x2="73.43" y2="631.3" stroke-width="1.0"/><line x1="102.46" y1="628.3" x2="102.46" y2="631.3" stroke-width="1.0"/><line x1="131.48" y1="628.3" x2="131.48" y2="631.3" stroke-width="1.0"/><line x1="160.51" y1="628.3" x2="160.51" y2="631.3" stroke-width="1.0"/><line x1="189.54" y1="628.3" x2="189.54" y2="631.3" stroke-width="1.0"/><line x1="218.57" y1="628.3" x2="218.57" y2="631.3" stroke-width="1.0"/><line x1="247.60" y1="628.3" x2="247.60" y2="631.3" stroke-width="1.0"/><line x1="30.5" y1="602.70" x2="33.5" y2="602.70" stroke-width="1.0"/><line x1="30.5" y1="566.65" x2="33.5" y2="566.65" stroke-width="1.0"/><line x1="30.5" y1="530.60" x2="33.5" y2="530.60" stroke-width="1.0"/><line x1="30.5" y1="494.55" x2="33.5" y2="494.55" stroke-width="1.0"/><line x1="30.5" y1="458.50" x2="33.5" y2="458.50" stroke-width="1.0"/></g><g fill="#262626" stroke="#262626" stroke-width="0.16"><text x="44.40" y="638.60" text-anchor="middle" font-size="7.26" textLength="3.90" lengthAdjust="spacingAndGlyphs">0</text><text x="73.43" y="638.60" text-anchor="middle" font-size="7.26" textLength="7.81" lengthAdjust="spacingAndGlyphs">20</text><text x="102.46" y="638.60" text-anchor="middle" font-size="7.26" textLength="7.81" lengthAdjust="spacingAndGlyphs">40</text><text x="131.48" y="638.60" text-anchor="middle" font-size="7.26" textLength="7.81" lengthAdjust="spacingAndGlyphs">60</text><text x="160.51" y="638.60" text-anchor="middle" font-size="7.26" textLength="7.81" lengthAdjust="spacingAndGlyphs">80</text><text x="189.54" y="638.60" text-anchor="middle" font-size="7.26" textLength="11.71" lengthAdjust="spacingAndGlyphs">100</text><text x="218.57" y="638.60" text-anchor="middle" font-size="7.26" textLength="11.71" lengthAdjust="spacingAndGlyphs">120</text><text x="247.60" y="638.60" text-anchor="middle" font-size="7.26" textLength="11.71" lengthAdjust="spacingAndGlyphs">140</text><text x="28.60" y="605.45" text-anchor="end" font-size="7.26" textLength="9.76" lengthAdjust="spacingAndGlyphs">0.6</text><text x="28.60" y="569.40" text-anchor="end" font-size="7.26" textLength="9.76" lengthAdjust="spacingAndGlyphs">0.7</text><text x="28.60" y="533.35" text-anchor="end" font-size="7.26" textLength="9.76" lengthAdjust="spacingAndGlyphs">0.8</text><text x="28.60" y="497.30" text-anchor="end" font-size="7.26" textLength="9.76" lengthAdjust="spacingAndGlyphs">0.9</text><text x="28.60" y="461.25" text-anchor="end" font-size="7.26" textLength="9.76" lengthAdjust="spacingAndGlyphs">1.0</text><g stroke-width="0.06"><text x="152.50" y="447.00" text-anchor="middle" font-size="8.40" textLength="190.11" lengthAdjust="spacingAndGlyphs">Training and Validation Accuracy of CNN-BLSTM</text></g><text x="152.50" y="647.40" text-anchor="middle" font-size="6.73" textLength="23.65" lengthAdjust="spacingAndGlyphs">Epochs</text><text transform="translate(14.00,540.50) rotate(-90)" x="0" y="0" text-anchor="middle" font-size="6.73" textLength="30.15" lengthAdjust="spacingAndGlyphs">Accuracy</text></g><rect x="179" y="603.4" width="89.19999999999999" height="21.799999999999955" rx="1.3" fill="#fff" fill-opacity="0.8" stroke="#d6d6d6" stroke-width="0.7"/><line x1="180.4" y1="608.40" x2="195" y2="608.40" stroke="#1a83c8" stroke-width="1.3"/><g fill="#262626" stroke="#262626" stroke-width="0.16"><text x="200.00" y="610.90" text-anchor="start" font-size="6.73" textLength="58.29" lengthAdjust="spacingAndGlyphs">Training Accuracy</text></g><line x1="180.4" y1="618.50" x2="195" y2="618.50" stroke="#fd8a1e" stroke-width="1.3"/><g fill="#262626" stroke="#262626" stroke-width="0.16"><text x="200.00" y="621.00" text-anchor="start" font-size="6.73" textLength="64.83" lengthAdjust="spacingAndGlyphs">Validation Accuracy</text></g><clipPath id="c12"><rect x="305.5" y="450.5" width="237.70000000000005" height="177.79999999999995"/></clipPath><g clip-path="url(#c12)" fill="none" stroke-width="1.3" stroke-linejoin="round" stroke-linecap="square"><polyline points="316.40,478.00 317.85,487.00 319.30,503.00 320.75,514.00 322.21,524.00 323.66,529.50 325.11,533.00 326.56,535.50 328.01,538.00 329.46,540.00 330.91,541.50 332.37,543.00 333.82,545.00 335.27,545.00 336.72,543.00 338.17,540.50 339.62,545.00 341.07,539.50 342.53,540.00 343.98,547.00 345.43,551.00 346.88,554.50 348.33,555.50 349.78,552.00 351.23,550.50 352.69,559.50 354.14,561.00 355.59,562.00 357.04,563.00 358.49,562.50 359.94,568.00 361.39,571.50 362.84,569.00 364.30,567.00 365.75,570.00 367.20,573.00 368.65,576.00 370.10,573.00 371.55,570.00 373.00,572.00 374.46,575.00 375.91,583.00 377.36,584.00 378.81,585.00 380.26,588.00 381.71,584.00 383.16,586.00 384.62,588.50 386.07,593.00 387.52,596.50 388.97,596.00 390.42,595.50 391.87,594.50 393.32,590.00 394.78,584.50 396.23,594.00 397.68,598.00 399.13,601.50 400.58,599.00 402.03,598.00 403.48,603.00 404.94,603.00 406.39,603.50 407.84,603.50 409.29,598.00 410.74,549.00 412.19,573.00 413.64,586.00 415.10,594.00 416.55,600.00 418.00,603.00 419.45,605.50 420.90,607.00 422.35,608.50 423.80,609.50 425.25,610.50 426.71,611.00 428.16,611.50 429.61,612.00 431.06,611.00 432.51,612.50 433.96,613.50 435.41,614.00 436.87,615.00 438.32,615.00 439.77,615.50 441.22,616.00 442.67,615.00 444.12,615.50 445.57,588.00 447.03,591.00 448.48,601.00 449.93,606.50 451.38,610.00 452.83,612.00 454.28,614.50 455.73,616.00 457.19,616.50 458.64,617.00 460.09,617.00 461.54,617.50 462.99,617.50 464.44,617.50 465.89,617.50 467.35,617.50 468.80,618.00 470.25,618.00 471.70,618.00 473.15,618.00 474.60,618.00 476.05,618.50 477.51,618.50 478.96,618.50 480.41,618.50 481.86,618.50 483.31,618.50 484.76,619.00 486.21,619.00 487.67,619.00 489.12,619.00 490.57,619.00 492.02,619.00 493.47,619.00 494.92,619.00 496.37,619.00 497.82,619.00 499.28,619.50 500.73,619.50 502.18,619.50 503.63,619.50 505.08,619.50 506.53,619.50 507.98,619.50 509.44,619.50 510.89,619.50 512.34,619.50 513.79,619.50 515.24,619.50 516.69,619.50 518.14,619.50 519.60,619.50 521.05,619.50 522.50,619.50 523.95,619.50 525.40,619.50 526.85,619.50 528.30,619.50 529.76,619.50 531.21,619.50 532.66,619.50" stroke="#1a83c8"/><polyline points="316.40,478.50 317.85,486.00 319.30,496.00 320.75,509.00 322.21,511.00 323.66,510.00 325.11,509.00 326.56,511.50 328.01,512.50 329.46,513.00 330.91,514.00 332.37,516.00 333.82,518.50 335.27,510.50 336.72,520.50 338.17,508.50 339.62,521.50 341.07,519.00 342.53,516.00 343.98,517.50 345.43,519.00 346.88,521.00 348.33,523.50 349.78,520.50 351.23,526.00 352.69,531.00 354.14,532.00 355.59,520.00 357.04,519.50 358.49,535.00 359.94,538.00 361.39,540.50 362.84,534.00 364.30,528.50 365.75,542.00 367.20,540.00 368.65,539.50 370.10,530.00 371.55,507.50 373.00,547.00 374.46,553.50 375.91,545.00 377.36,538.50 378.81,558.50 380.26,541.50 381.71,554.50 383.16,544.50 384.62,550.00 386.07,554.00 387.52,516.50 388.97,539.00 390.42,562.00 391.87,553.50 393.32,545.00 394.78,556.00 396.23,567.00 397.68,562.00 399.13,552.00 400.58,543.00 402.03,578.50 403.48,555.00 404.94,530.50 406.39,577.50 407.84,520.00 409.29,458.00 410.74,545.00 412.19,565.00 413.64,571.00 415.10,573.00 416.55,572.50 418.00,576.00 419.45,575.50 420.90,580.00 422.35,584.00 423.80,587.00 425.25,588.00 426.71,588.50 428.16,591.00 429.61,592.50 431.06,581.50 432.51,594.50 433.96,599.00 435.41,603.50 436.87,601.00 438.32,607.50 439.77,607.00 441.22,606.00 442.67,601.50 444.12,609.50 445.57,527.50 447.03,588.00 448.48,589.00 449.93,600.00 451.38,595.00 452.83,587.00 454.28,602.00 455.73,606.50 457.19,607.00 458.64,608.00 460.09,609.00 461.54,610.50 462.99,609.00 464.44,608.00 465.89,609.50 467.35,607.00 468.80,611.00 470.25,612.00 471.70,614.50 473.15,615.00 474.60,615.50 476.05,616.00 477.51,616.50 478.96,610.50 480.41,617.50 481.86,616.00 483.31,614.00 484.76,618.00 486.21,617.00 487.67,618.00 489.12,618.50 490.57,619.00 492.02,619.00 493.47,619.00 494.92,619.00 496.37,619.00 497.82,619.00 499.28,619.50 500.73,619.50 502.18,619.50 503.63,619.50 505.08,619.50 506.53,619.50 507.98,619.50 509.44,619.50 510.89,619.50 512.34,619.50 513.79,619.50 515.24,619.50 516.69,619.50 518.14,619.50 519.60,619.50 521.05,619.50 522.50,619.50 523.95,619.50 525.40,619.50 526.85,619.50 528.30,619.50 529.76,619.50 531.21,619.50 532.66,619.50" stroke="#fd8a1e"/></g><g stroke="#6e6e6e" stroke-width="1.3" fill="none"><rect x="305.5" y="450.5" width="237.70000000000005" height="177.79999999999995"/><line x1="316.40" y1="628.3" x2="316.40" y2="631.3" stroke-width="1.0"/><line x1="345.43" y1="628.3" x2="345.43" y2="631.3" stroke-width="1.0"/><line x1="374.46" y1="628.3" x2="374.46" y2="631.3" stroke-width="1.0"/><line x1="403.48" y1="628.3" x2="403.48" y2="631.3" stroke-width="1.0"/><line x1="432.51" y1="628.3" x2="432.51" y2="631.3" stroke-width="1.0"/><line x1="461.54" y1="628.3" x2="461.54" y2="631.3" stroke-width="1.0"/><line x1="490.57" y1="628.3" x2="490.57" y2="631.3" stroke-width="1.0"/><line x1="519.60" y1="628.3" x2="519.60" y2="631.3" stroke-width="1.0"/><line x1="302.5" y1="620.20" x2="305.5" y2="620.20" stroke-width="1.0"/><line x1="302.5" y1="599.61" x2="305.5" y2="599.61" stroke-width="1.0"/><line x1="302.5" y1="579.03" x2="305.5" y2="579.03" stroke-width="1.0"/><line x1="302.5" y1="558.44" x2="305.5" y2="558.44" stroke-width="1.0"/><line x1="302.5" y1="537.85" x2="305.5" y2="537.85" stroke-width="1.0"/><line x1="302.5" y1="517.26" x2="305.5" y2="517.26" stroke-width="1.0"/><line x1="302.5" y1="496.68" x2="305.5" y2="496.68" stroke-width="1.0"/><line x1="302.5" y1="476.09" x2="305.5" y2="476.09" stroke-width="1.0"/><line x1="302.5" y1="455.50" x2="305.5" y2="455.50" stroke-width="1.0"/></g><g fill="#262626" stroke="#262626" stroke-width="0.16"><text x="316.40" y="638.60" text-anchor="middle" font-size="7.26" textLength="3.90" lengthAdjust="spacingAndGlyphs">0</text><text x="345.43" y="638.60" text-anchor="middle" font-size="7.26" textLength="7.81" lengthAdjust="spacingAndGlyphs">20</text><text x="374.46" y="638.60" text-anchor="middle" font-size="7.26" textLength="7.81" lengthAdjust="spacingAndGlyphs">40</text><text x="403.48" y="638.60" text-anchor="middle" font-size="7.26" textLength="7.81" lengthAdjust="spacingAndGlyphs">60</text><text x="432.51" y="638.60" text-anchor="middle" font-size="7.26" textLength="7.81" lengthAdjust="spacingAndGlyphs">80</text><text x="461.54" y="638.60" text-anchor="middle" font-size="7.26" textLength="11.71" lengthAdjust="spacingAndGlyphs">100</text><text x="490.57" y="638.60" text-anchor="middle" font-size="7.26" textLength="11.71" lengthAdjust="spacingAndGlyphs">120</text><text x="519.60" y="638.60" text-anchor="middle" font-size="7.26" textLength="11.71" lengthAdjust="spacingAndGlyphs">140</text><text x="300.60" y="622.95" text-anchor="end" font-size="7.26" textLength="9.76" lengthAdjust="spacingAndGlyphs">0.0</text><text x="300.60" y="602.36" text-anchor="end" font-size="7.26" textLength="9.76" lengthAdjust="spacingAndGlyphs">0.1</text><text x="300.60" y="581.78" text-anchor="end" font-size="7.26" textLength="9.76" lengthAdjust="spacingAndGlyphs">0.2</text><text x="300.60" y="561.19" text-anchor="end" font-size="7.26" textLength="9.76" lengthAdjust="spacingAndGlyphs">0.3</text><text x="300.60" y="540.60" text-anchor="end" font-size="7.26" textLength="9.76" lengthAdjust="spacingAndGlyphs">0.4</text><text x="300.60" y="520.01" text-anchor="end" font-size="7.26" textLength="9.76" lengthAdjust="spacingAndGlyphs">0.5</text><text x="300.60" y="499.43" text-anchor="end" font-size="7.26" textLength="9.76" lengthAdjust="spacingAndGlyphs">0.6</text><text x="300.60" y="478.84" text-anchor="end" font-size="7.26" textLength="9.76" lengthAdjust="spacingAndGlyphs">0.7</text><text x="300.60" y="458.25" text-anchor="end" font-size="7.26" textLength="9.76" lengthAdjust="spacingAndGlyphs">0.8</text><g stroke-width="0.06"><text x="424.35" y="447.00" text-anchor="middle" font-size="8.40" textLength="171.10" lengthAdjust="spacingAndGlyphs">Training and Validation Loss of CNN-BLSTM</text></g><text x="424.35" y="647.40" text-anchor="middle" font-size="6.73" textLength="23.65" lengthAdjust="spacingAndGlyphs">Epochs</text><text transform="translate(286.00,540.50) rotate(-90)" x="0" y="0" text-anchor="middle" font-size="6.73" textLength="14.46" lengthAdjust="spacingAndGlyphs">Loss</text></g><rect x="466.5" y="454.0" width="73.10000000000002" height="22.30000000000001" rx="1.3" fill="#fff" fill-opacity="0.8" stroke="#d6d6d6" stroke-width="0.7"/><line x1="467.9" y1="459.00" x2="482.5" y2="459.00" stroke="#1a83c8" stroke-width="1.3"/><g fill="#262626" stroke="#262626" stroke-width="0.16"><text x="487.50" y="461.50" text-anchor="start" font-size="6.73" textLength="42.61" lengthAdjust="spacingAndGlyphs">Training Loss</text></g><line x1="467.9" y1="469.10" x2="482.5" y2="469.10" stroke="#fd8a1e" stroke-width="1.3"/><g fill="#262626" stroke="#262626" stroke-width="0.16"><text x="487.50" y="471.60" text-anchor="start" font-size="6.73" textLength="49.15" lengthAdjust="spacingAndGlyphs">Validation Loss</text></g></g></svg></body></html>
